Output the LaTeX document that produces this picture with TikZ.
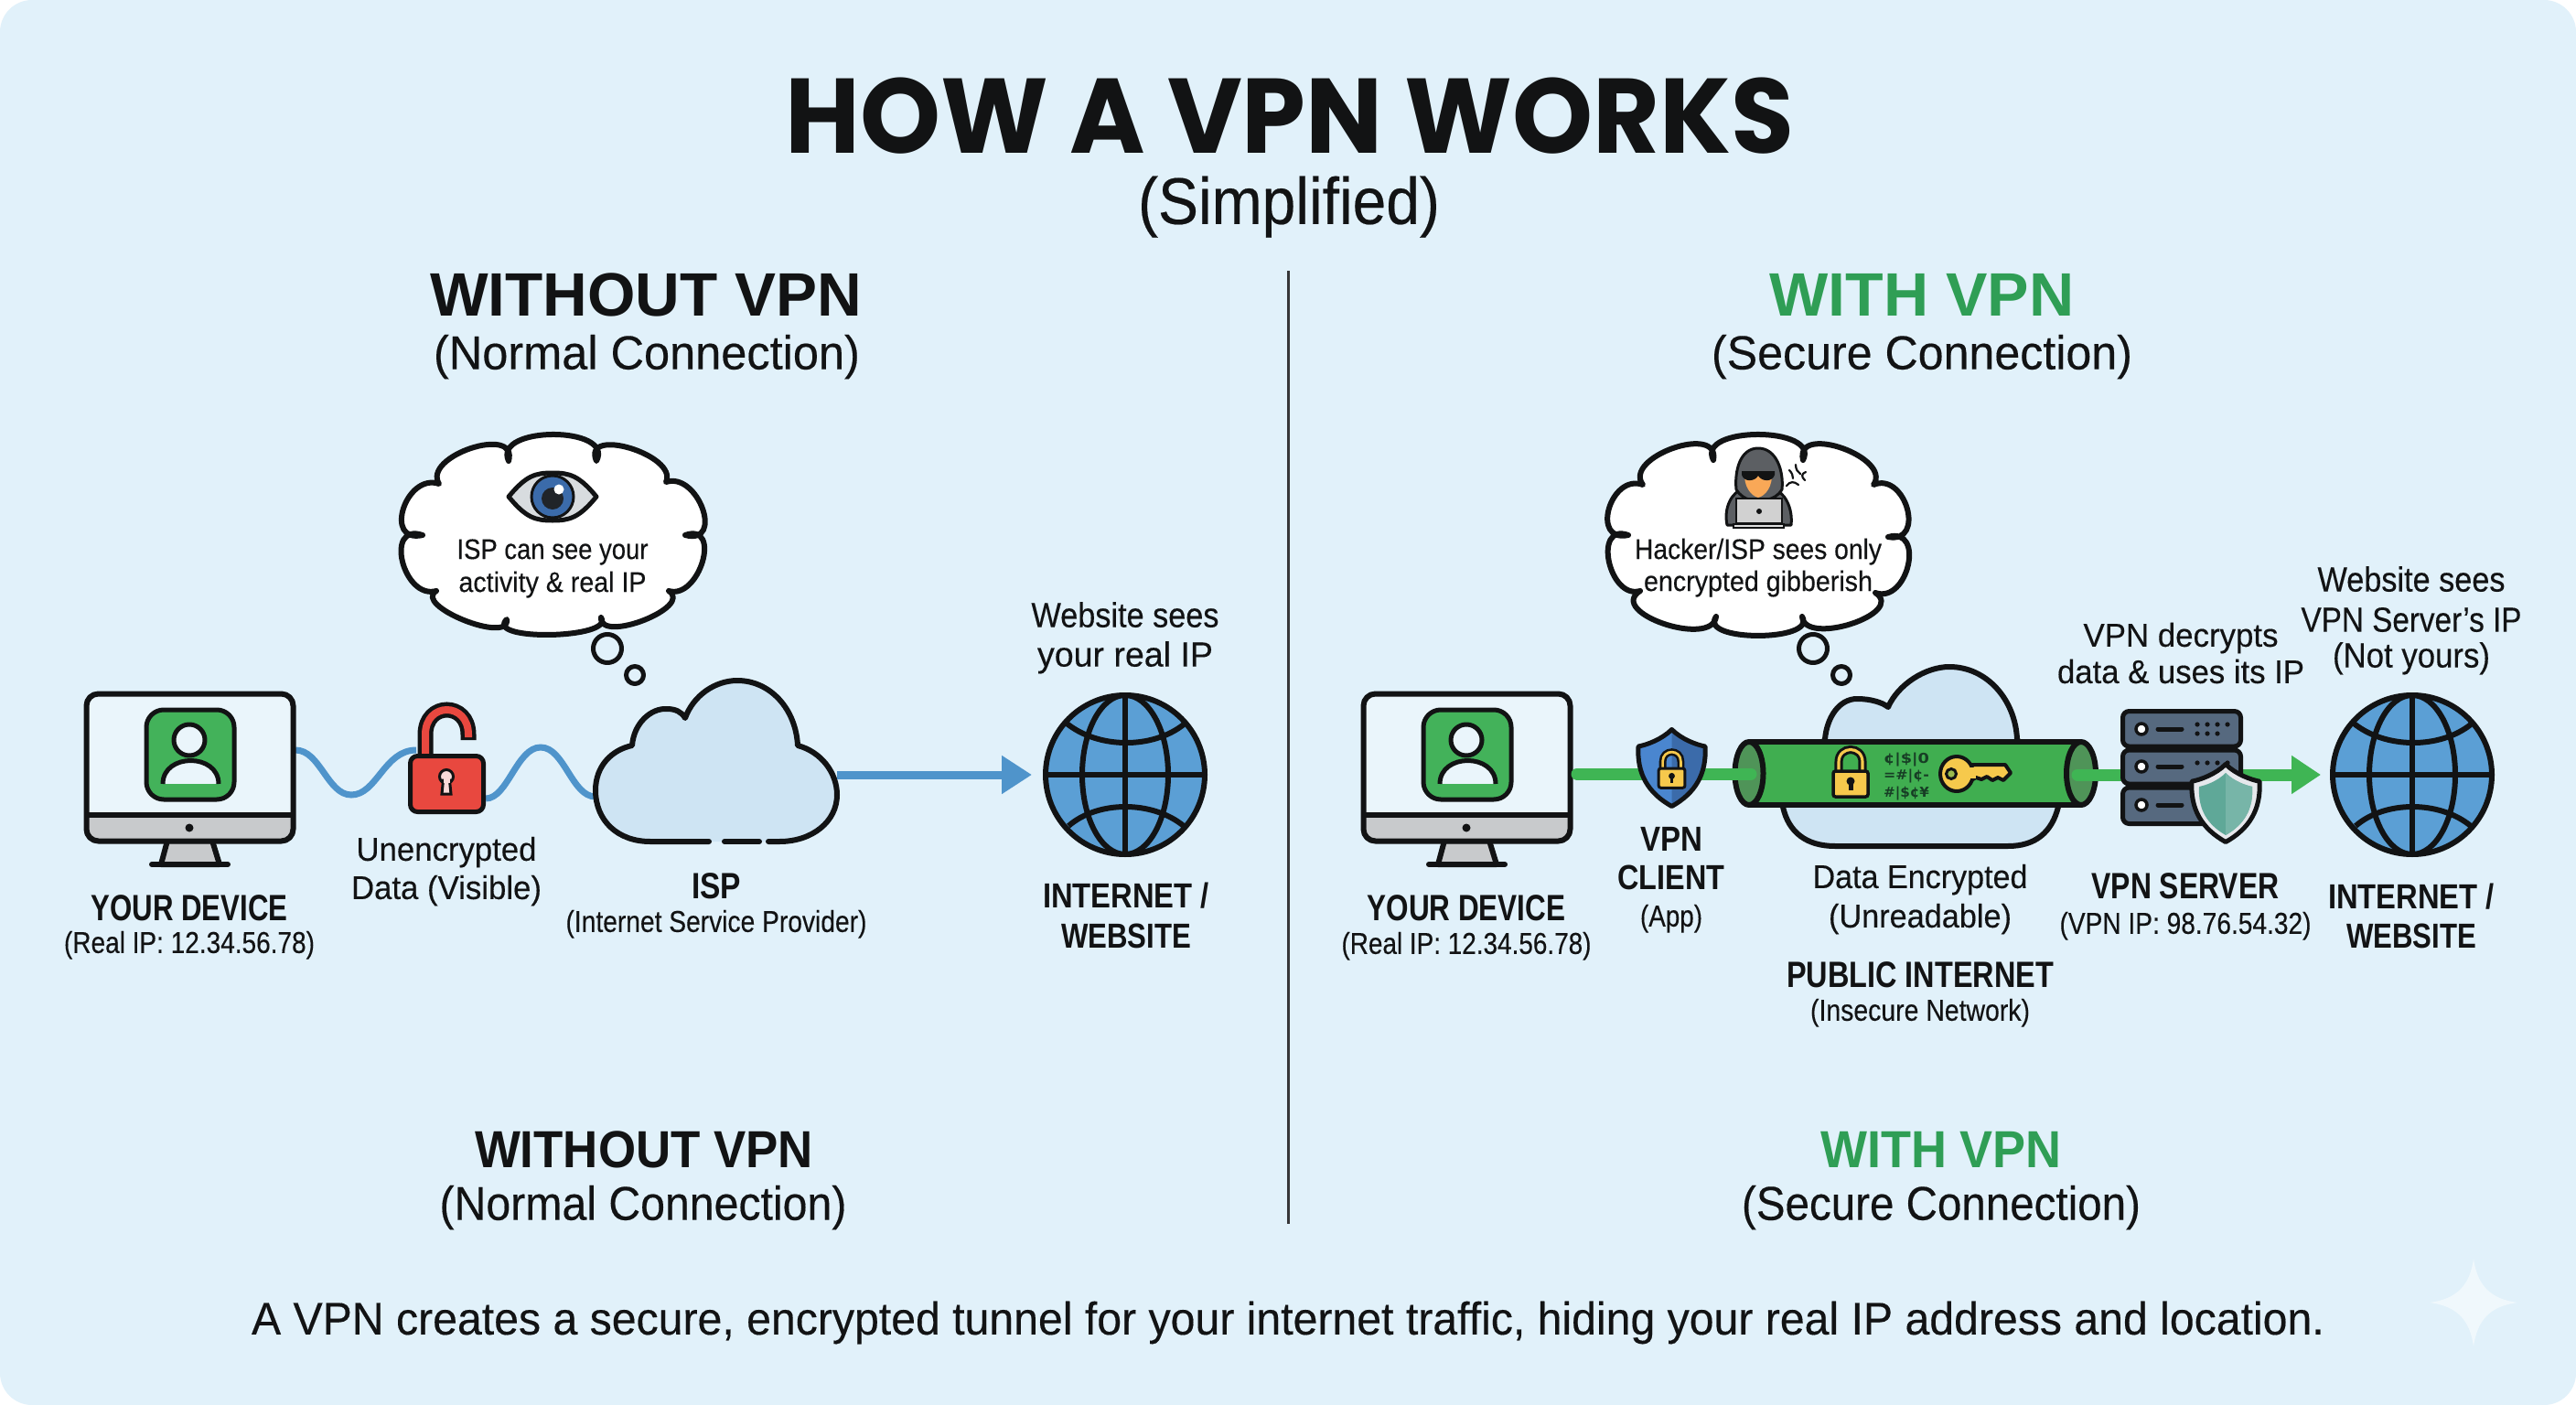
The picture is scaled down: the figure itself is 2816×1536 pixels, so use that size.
\documentclass[tikz,border=0pt]{standalone}
\usepackage{fontspec}
\usepackage{graphicx}
\usetikzlibrary{arrows.meta,calc}
\setmainfont{Liberation Sans}
\newfontfamily\medfont[FakeBold=0.3]{Liberation Sans}
\newfontfamily\headfont{Poppins}
\newfontfamily\glyphfont{DejaVu Sans}
\definecolor{pagebg}{HTML}{E1F1FA}
\definecolor{ink}{HTML}{121314}
\definecolor{screenbg}{HTML}{EAF5FB}
\definecolor{chin}{HTML}{C8CACC}
\definecolor{tile}{HTML}{43B25A}
\definecolor{wire}{HTML}{4F94CB}
\definecolor{earth}{HTML}{5B9FD5}
\definecolor{vapor}{HTML}{CEE4F3}
\definecolor{safe}{HTML}{3FB554}
\definecolor{tube}{HTML}{40AE50}
\definecolor{mouth}{HTML}{4F9458}
\definecolor{headgreen}{HTML}{2F9E55}
\definecolor{lockred}{HTML}{E8483F}
\definecolor{gold}{HTML}{F6C94C}
\definecolor{slate}{HTML}{56697F}
\definecolor{teal}{HTML}{5FA898}
\definecolor{shieldL}{HTML}{4A86CF}
\definecolor{shieldR}{HTML}{3B6BAA}
\definecolor{hood}{HTML}{5C5F63}

\tikzset{
  outline/.style={draw=ink,line width=6pt,line join=round},
  thin outline/.style={draw=ink,line width=4pt,line join=round},
  txt/.style={inner sep=0pt,outer sep=0pt,text=ink,text depth=0pt,align=center},
  wave/.style={draw=wire,line width=7pt},
  blue flow/.style={draw=wire,line width=9pt,-{Triangle[length=33pt,width=40pt]}},
  green flow/.style={draw=safe,line width=13pt,line cap=round},
}

% One line of text, set to a given width; the node centre is the middle of the capitals.
\newsavebox\fitbox
\newcommand\fitx[2]{\sbox\fitbox{#2}\pgfmathsetmacro\fitfactor{#1/\the\wd\fitbox}\scalebox{\fitfactor}[1]{\usebox\fitbox}}
\newcommand\lineat[7][ink]{%
  \pgfmathsetmacro\capht{0.716*#5}%
  \node[txt,text=#1,text height=\capht pt] (#2) at (#3,#4) {\fontsize{#5}{#5}\selectfont\fitx{#6}{#7}};}
\newcommand\rg{\medfont}
\newcommand\bd{\bfseries}

% Scalloped lobe: from the current point, through #1, ending at #3 (#2 is the start point).
\newcommand\lobe[3]{.. controls ($.5333*#2-.8667*#3+1.3333*#1$) and ($.5333*#3-.8667*#2+1.3333*#1$) .. #3}

\newcommand\desktop[1]{%
  \begin{scope}[shift={(#1,0)}]
    \filldraw[chin,outline] (183,919) -- (232,919) -- (240,945) -- (176,945) -- cycle;
    \draw[outline,line cap=round] (166,945) -- (249,945);
    \begin{scope}
      \clip[rounded corners=13pt] (94.5,758.5) rectangle (320.5,919.5);
      \fill[screenbg] (92,756) rectangle (323,891);
      \fill[chin] (92,891) rectangle (323,922);
    \end{scope}
    \draw[outline] (94.5,891) -- (320.5,891);
    \draw[outline,rounded corners=13pt] (94.5,758.5) rectangle (320.5,919.5);
    \fill[ink] (207,905) circle (4.5);
    \filldraw[fill=tile,outline,line width=5pt,rounded corners=19pt] (160,776) rectangle (256,874);
    \filldraw[fill=screenbg,outline,line width=5pt] (207,809) circle (17);
    \fill[screenbg] (178,857) .. controls (178,823) and (239,823) .. (239,857) -- cycle;
    \draw[outline,line width=5pt] (178,857) .. controls (178,823) and (239,823) .. (239,857);
  \end{scope}}

\newcommand\globe[1]{%
  \begin{scope}[shift={#1}]
    \filldraw[fill=earth,outline] (0,0) circle (87);
    \draw[outline] (0,0) ellipse (47 and 87);
    \draw[outline] (0,-87) -- (0,87);
    \draw[outline] (-87,0) -- (87,0);
    \draw[outline] (-65,-57) .. controls (-30,-28) and (30,-28) .. (64,-55);
    \draw[outline] (-62,56) .. controls (-30,28) and (30,28) .. (64,56);
  \end{scope}}

% Closed padlock around (0,0) = middle of the body's top edge.
\newcommand\padlock[3]{%
  \begin{scope}[shift={#1},scale=#2]
    \draw[ink,line width=#3*2.6pt] (-13,2) -- (-13,-10) .. controls (-13,-28) and (13,-28) .. (13,-10) -- (13,2);
    \draw[gold,line width=#3*.9pt] (-13,2) -- (-13,-10) .. controls (-13,-28) and (13,-28) .. (13,-10) -- (13,2);
    \filldraw[fill=gold,draw=ink,line width=#3pt,rounded corners=2.5pt] (-19,0) rectangle (19,28);
    \fill[ink] (0,11) circle (4.5);
    \fill[ink] (-2.5,11) rectangle (2.5,21);
  \end{scope}}

\newcommand\shieldline{(0,0) .. controls (-.3,.13) and (-.75,.2) .. (-1,.22) .. controls (-1.05,.58) and (-.7,.83) .. (0,1) .. controls (.7,.83) and (1.05,.58) .. (1,.22) .. controls (.75,.2) and (.3,.13) .. (0,0)}

\begin{document}
\begin{tikzpicture}[x=1pt,y=-1pt]
\useasboundingbox (0,0) rectangle (2816,1536);
\fill[white] (0,0) rectangle (2816,1536);
\fill[pagebg,rounded corners=35pt] (0,0) rectangle (2816,1536);

% Sparkle in the lower corner
\fill[white,opacity=.5] (2704,1376) .. controls (2708,1405) and (2722,1420) .. (2752,1424)
  .. controls (2722,1428) and (2708,1443) .. (2704,1472)
  .. controls (2700,1443) and (2686,1428) .. (2656,1424)
  .. controls (2686,1420) and (2700,1405) .. (2704,1376) -- cycle;

% Headings
\lineat{title}{1410}{126}{116}{1103}{\headfont\bfseries HOW A VPN WORKS}
\lineat{subtitle}{1409}{219}{72}{330}{\rg (Simplified)}
\lineat{hWithout}{706}{322}{67}{472}{\bd WITHOUT VPN}
\lineat{sWithout}{707}{385}{52}{466}{\rg (Normal Connection)}
\lineat[headgreen]{hWith}{2101}{322}{67}{333}{\bd WITH VPN}
\lineat{sWith}{2101}{385}{52}{460}{\rg (Secure Connection)}
\lineat{bWithout}{704}{1256}{57}{370}{\bd WITHOUT VPN}
\lineat{bsWithout}{703}{1315}{52}{445}{\rg (Normal Connection)}
\lineat[headgreen]{bWith}{2122}{1256}{57}{264}{\bd WITH VPN}
\lineat{bsWith}{2122}{1315}{52}{436}{\rg (Secure Connection)}
\lineat{footer}{1408}{1441}{50}{2266}{\rg A VPN creates a secure, encrypted tunnel for your internet traffic, hiding your real IP address and location.}

% Central divider
\coordinate (divTop) at (1408,296);
\coordinate (divBot) at (1408,1338);
\draw[ink!85,line width=3pt] (divTop) -- (divBot);

%%% Left half: plain connection
\coordinate (devAout) at (323,820);
\coordinate (lockAin) at (455,820);
\coordinate (lockAout) at (531,873);
\coordinate (ispAin) at (651,871);
\coordinate (ispAout) at (915,847);
\coordinate (globeAin) at (1128,847);

\draw[wave] (devAout) .. controls (350,820) and (358,869) .. (384,869) .. controls (412,869) and (420,820) .. (lockAin);
\draw[wave] (lockAout) .. controls (555,873) and (565,817) .. (591,817) .. controls (617,817) and (625,871) .. (ispAin);
\desktop{0}

% Open padlock
\draw[ink,line width=17pt] (465,828) -- (465,803) .. controls (465,767) and (512,767) .. (512,803) -- (512,809);
\draw[lockred,line width=8pt] (465,828) -- (465,803) .. controls (465,767) and (512,767) .. (512,803) -- (512,806);
\filldraw[fill=lockred,outline,line width=5pt,rounded corners=8pt] (448.5,826.5) rectangle (528.5,887.5);
\filldraw[fill=white!80!lockred,draw=ink,line width=3pt] (488,849) circle (7.5);
\filldraw[fill=white!80!lockred,draw=ink,line width=3pt] (484.5,853) -- (483,868) -- (493,868) -- (491.5,853) -- cycle;
\fill[white!80!lockred] (484.5,849) rectangle (491.5,856);

% ISP cloud with a broken lower edge
\fill[vapor] (711,920) .. controls (675,920) and (651,897) .. (651,864) .. controls (651,838) and (668,820) .. (691,815)
  .. controls (693,790) and (712,774) .. (729,775) .. controls (738,775) and (745,778) .. (749,785)
  .. controls (758,760) and (782,744) .. (806,744) .. controls (842,744) and (870,775) .. (872,815)
  .. controls (898,822) and (915,845) .. (915,869) .. controls (915,898) and (888,920) .. (852,920) -- cycle;
\draw[outline,line cap=round] (775,920) -- (711,920) .. controls (675,920) and (651,897) .. (651,864) .. controls (651,838) and (668,820) .. (691,815)
  .. controls (693,790) and (712,774) .. (729,775) .. controls (738,775) and (745,778) .. (749,785)
  .. controls (758,760) and (782,744) .. (806,744) .. controls (842,744) and (870,775) .. (872,815)
  .. controls (898,822) and (915,845) .. (915,869) .. controls (915,898) and (888,920) .. (852,920) -- (840,920);
\draw[outline,line cap=round] (792,920) -- (830,920);

\draw[blue flow] (ispAout) -- (globeAin);
\globe{(1230,847)}

% Thought bubble with the eye
\filldraw[fill=white,outline]
  (556,504) \lobe{(605,475)}{(556,504)}{(652,504)}
  \lobe{(689,490)}{(652,504)}{(728,527)}
  \lobe{(768,556)}{(728,527)}{(749,585)}
  \lobe{(768,614)}{(749,585)}{(731,646)}
  \lobe{(704,678)}{(731,646)}{(657,675)}
  \lobe{(602,694)}{(657,675)}{(554,677)}
  \lobe{(507,678)}{(554,677)}{(477,646)}
  \lobe{(440,614)}{(477,646)}{(462,585)}
  \lobe{(441,556)}{(462,585)}{(480,529)}
  \lobe{(515,490)}{(480,529)}{(556,504)} -- cycle;
\draw[outline,line width=5pt] (664,709) circle (15.5);
\draw[outline,line width=5pt] (694,738) circle (9.5);
\filldraw[fill=white!80!black!60!screenbg,outline,line width=5pt] (556,543) .. controls (575,520) and (585,517) .. (604,517) .. controls (623,517) and (633,520) .. (652,543) .. controls (633,566) and (623,569) .. (604,569) .. controls (585,569) and (575,566) .. (556,543) -- cycle;
\filldraw[fill=shieldR,draw=ink,line width=3pt] (604,543) circle (23);
\fill[ink!80!slate] (604,545) circle (12);
\fill[white] (611,535) circle (5.5);

% Left labels
\lineat{lblIspSee}{604}{600}{31}{209}{\rg ISP can see your}
\lineat{lblIspSeeB}{604}{636}{31}{205}{\rg activity \& real IP}
\lineat{lblSiteA}{1230}{672}{38}{205}{\rg Website sees}
\lineat{lblSiteB}{1230}{715}{38}{192}{\rg your real IP}
\lineat{lblDevA}{207}{992}{40}{215}{\bd YOUR DEVICE}
\lineat{lblDevB}{207}{1030}{33}{274}{\rg (Real IP: 12.34.56.78)}
\lineat{lblUnA}{488}{928}{36}{197}{\rg Unencrypted}
\lineat{lblUnB}{488}{970}{36}{208}{\rg Data (Visible)}
\lineat{lblIspA}{783}{968}{40}{54}{\bd ISP}
\lineat{lblIspB}{783}{1007}{33}{329}{\rg (Internet Service Provider)}
\lineat{lblNetA}{1231}{979}{38}{182}{\bd INTERNET /}
\lineat{lblNetB}{1231}{1023}{38}{142}{\bd WEBSITE}

%%% Right half: tunnelled connection
\coordinate (devBout) at (1724,846);
\coordinate (tunnelIn) at (1914,846);
\coordinate (tunnelOut) at (2271,847);
\coordinate (globeBin) at (2537,847);

\desktop{1396}

% Cloud standing behind the tunnel
\filldraw[fill=vapor,outline] (1995,808) .. controls (1997,785) and (2010,764) .. (2030,764) .. controls (2045,764) and (2058,768) .. (2064,773)
  .. controls (2075,748) and (2105,729) .. (2131,729) .. controls (2172,729) and (2203,765) .. (2205,808)
  -- (2250,882) .. controls (2243,910) and (2225,925) .. (2195,925) -- (2006,925) .. controls (1975,925) and (1955,910) .. (1949,882) -- cycle;

% Tunnel
\fill[tube] (1912,811) rectangle (2275,880);
\draw[outline] (1912,811) -- (2275,811);
\draw[outline] (1912,880) -- (2275,880);
\filldraw[fill=mouth,outline] (1912,845.5) ellipse (15.5 and 34.5);
\filldraw[fill=mouth,outline] (2275,845.5) ellipse (16 and 34.5);

\draw[green flow] (devBout) -- (tunnelIn);
\draw[green flow,line cap=round,-{Triangle[length=32pt,width=40pt]}] (tunnelOut) -- (globeBin);

% VPN client shield
\begin{scope}[shift={(1827.5,797.5)},x=36.5pt,y=-84pt]
  \fill[shieldL] \shieldline -- cycle;
  \fill[shieldR] (0,0) .. controls (.3,.13) and (.75,.2) .. (1,.22) .. controls (1.05,.58) and (.7,.83) .. (0,1) -- cycle;
  \draw[outline,line width=5pt] \shieldline -- cycle;
\end{scope}
\padlock{(1827.5,840)}{.76}{3}

% Contents of the tunnel
\padlock{(2023,843)}{1}{3.5}
\node[txt,text=ink!50!headgreen!70!black,font=\glyphfont\bfseries\fontsize{15}{15}\selectfont] (junkA) at (2084,829) {\fitx{50}{¢|\$|0}};
\node[txt,text=ink!50!headgreen!70!black,font=\glyphfont\bfseries\fontsize{15}{15}\selectfont] (junkB) at (2084,847) {\fitx{50}{=\#|¢-}};
\node[txt,text=ink!50!headgreen!70!black,font=\glyphfont\bfseries\fontsize{15}{15}\selectfont] (junkC) at (2084,866) {\fitx{50}{\#|\$¢¥}};
\filldraw[fill=gold,thin outline] (2148,836) -- (2192,836) -- (2198,845) -- (2190,853) -- (2184,850) -- (2178,853) -- (2172,849) -- (2166,852) -- (2160,850) -- (2150,856) -- cycle;
\filldraw[fill=gold,thin outline] (2139,846) ellipse (18 and 19);
\fill[gold] (2146,839) rectangle (2160,851);
\filldraw[fill=tube!50!gold,draw=ink,line width=3pt] (2133,846) circle (5.5);

% Server rack
\foreach \rowtop/\rowbot/\ledy in {777.5/816/797, 820/857/838, 861/900.5/880}{
  \filldraw[fill=slate,outline,line width=5pt,rounded corners=7pt] (2320.5,\rowtop) rectangle (2449.5,\rowbot);
  \filldraw[fill=white,draw=ink,line width=3.5pt] (2341,\ledy) circle (6);
  \draw[ink,line width=5pt,line cap=round] (2359,\ledy) -- (2385,\ledy);
}
\foreach \dotx in {2402,2413,2424,2435}{\fill[ink] (\dotx,792) circle (2.6);}
\foreach \dotx in {2402,2413,2424}{\fill[ink] (\dotx,802) circle (2.6);}
\foreach \dotx in {2402,2413,2424,2435}{\fill[ink] (\dotx,834) circle (2.6);}

% Server shield
\begin{scope}[shift={(2433,835.5)},x=37pt,y=-85pt]
  \filldraw[fill=white!85!slate,outline,line width=5pt] \shieldline -- cycle;
\end{scope}
\begin{scope}[shift={(2433,845)},x=29pt,y=-68pt]
  \fill[teal] \shieldline -- cycle;
  \fill[teal!85!white] (0,0) .. controls (.3,.13) and (.75,.2) .. (1,.22) .. controls (1.05,.58) and (.7,.83) .. (0,1) -- cycle;
\end{scope}

\globe{(2637,847)}

% Thought bubble with the hacker
\filldraw[fill=white,outline]
  (1873,503) \lobe{(1922,475)}{(1873,503)}{(1971,503)}
  \lobe{(2014,490)}{(1971,503)}{(2048,530)}
  \lobe{(2085,556)}{(2048,530)}{(2064,587)}
  \lobe{(2086,618)}{(2064,587)}{(2050,648)}
  \lobe{(2024,682)}{(2050,648)}{(1970,674)}
  \lobe{(1922,695)}{(1970,674)}{(1876,674)}
  \lobe{(1819,682)}{(1876,674)}{(1793,646)}
  \lobe{(1759,614)}{(1793,646)}{(1780,585)}
  \lobe{(1759,556)}{(1780,585)}{(1796,530)}
  \lobe{(1829,490)}{(1796,530)}{(1873,503)} -- cycle;
\draw[outline,line width=5pt] (1982,709) circle (15.5);
\draw[outline,line width=5pt] (2013,738) circle (9.5);

% Hooded figure at a laptop
\filldraw[fill=hood,draw=ink,line width=3pt,line join=round] (1888,574) .. controls (1884,555) and (1893,538) .. (1906,534) -- (1938,534) .. controls (1951,538) and (1960,555) .. (1958,574) -- cycle;
\filldraw[fill=hood,draw=ink,line width=3pt,line join=round] (1922,490) .. controls (1902,490) and (1896,515) .. (1898,535) .. controls (1902,542) and (1908,545) .. (1912,546) -- (1932,546) .. controls (1938,545) and (1944,542) .. (1948,535) .. controls (1950,515) and (1942,490) .. (1922,490) -- cycle;
\fill[orange!65!white!90!brown] (1907,516) -- (1937,516) .. controls (1938,532) and (1930,542) .. (1922,544) .. controls (1914,542) and (1906,532) .. (1907,516) -- cycle;
\fill[ink] (1904,515) -- (1940,515) -- (1940,519) .. controls (1938,527) and (1926,527) .. (1922,520) .. controls (1918,527) and (1906,527) .. (1904,519) -- cycle;
\filldraw[fill=white!82!black,draw=ink,line width=2.5pt] (1898,545) rectangle (1948,572);
\fill[ink] (1923,559) circle (3);
\filldraw[fill=white!88!black,draw=ink,line width=2pt] (1895,573) rectangle (1950,577);
\draw[ink,line width=2.2pt,line cap=round] (1956,514) .. controls (1959,517) and (1960,520) .. (1960,523)
  (1963,508) .. controls (1963,513) and (1965,516) .. (1968,518)
  (1974,516) .. controls (1969,518) and (1969,521) .. (1973,525)
  (1953,531) .. controls (1957,526) and (1961,526) .. (1966,530);

% Right labels
\lineat{lblHackA}{1922}{600}{31}{270}{\rg Hacker/ISP sees only}
\lineat{lblHackB}{1922}{635}{31}{250}{\rg encrypted gibberish}
\lineat{lblDecA}{2384}{694}{36}{213}{\rg VPN decrypts}
\lineat{lblDecB}{2384}{734}{36}{270}{\rg data \& uses its IP}
\lineat{lblSeesA}{2636}{633}{38}{205}{\rg Website sees}
\lineat{lblSeesB}{2636}{677}{38}{241}{\rg VPN Server’s IP}
\lineat{lblSeesC}{2636}{716}{38}{172}{\rg (Not yours)}
\lineat{lblDevC}{1603}{992}{40}{217}{\bd YOUR DEVICE}
\lineat{lblDevD}{1603}{1031}{33}{273}{\rg (Real IP: 12.34.56.78)}
\lineat{lblCliA}{1827}{917}{38}{68}{\bd VPN}
\lineat{lblCliB}{1827}{959}{38}{117}{\bd CLIENT}
\lineat{lblCliC}{1827}{1001}{33}{68}{\rg (App)}
\lineat{lblEncA}{2099}{958}{36}{235}{\rg Data Encrypted}
\lineat{lblEncB}{2099}{1001}{36}{200}{\rg (Unreadable)}
\lineat{lblPubA}{2099}{1065}{40}{292}{\bd PUBLIC INTERNET}
\lineat{lblPubB}{2099}{1104}{33}{240}{\rg (Insecure Network)}
\lineat{lblSrvA}{2389}{968}{40}{205}{\bd VPN SERVER}
\lineat{lblSrvB}{2389}{1009}{33}{275}{\rg (VPN IP: 98.76.54.32)}
\lineat{lblNetC}{2636}{980}{38}{182}{\bd INTERNET /}
\lineat{lblNetD}{2636}{1023}{38}{142}{\bd WEBSITE}
\end{tikzpicture}
\end{document}
